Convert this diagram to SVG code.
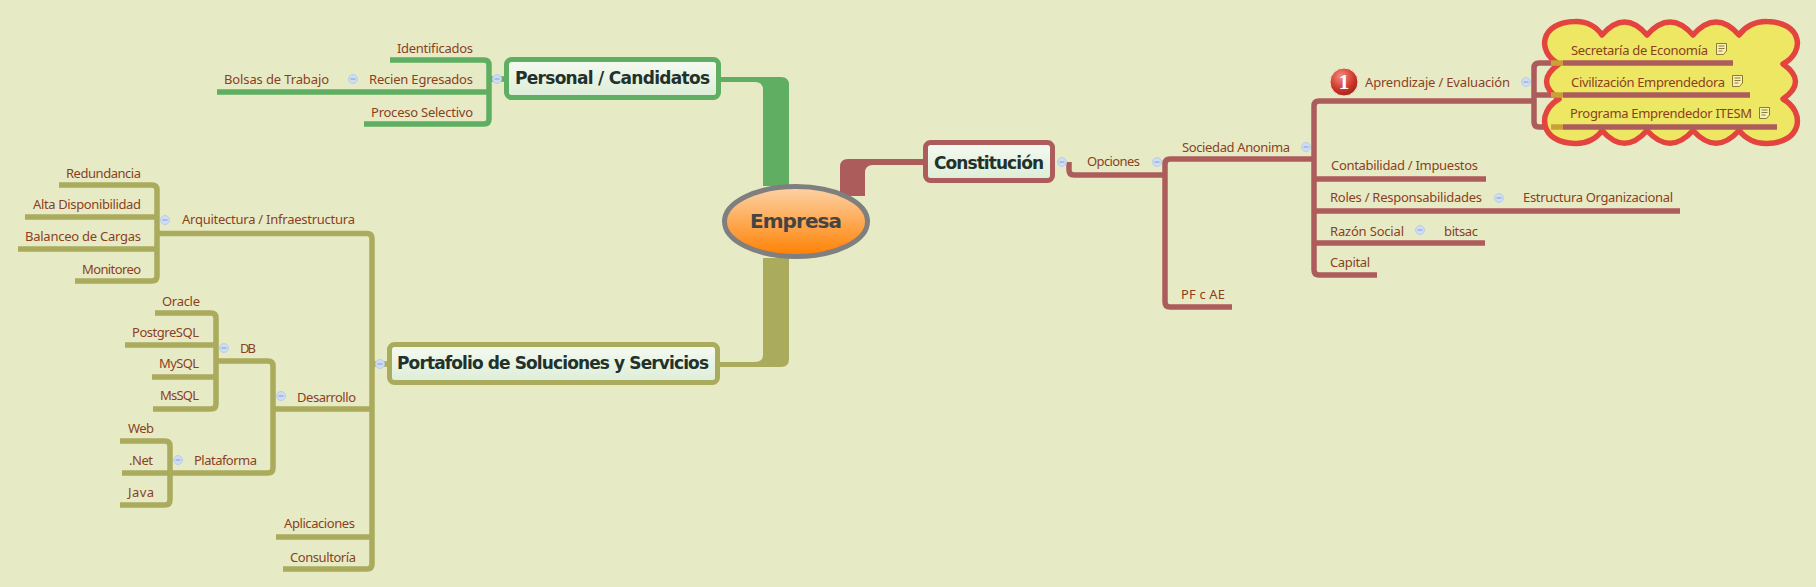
<svg xmlns="http://www.w3.org/2000/svg" width="1816" height="587" viewBox="0 0 1816 587">
<style>
.t{font-family:"Noto Sans","DejaVu Sans",sans-serif;font-size:13px;fill:#8b3f1f}
.h{font-family:"DejaVu Sans","Noto Sans",sans-serif;font-size:17px;font-weight:700;fill:#22322b}
.g,.o,.r{fill:none;stroke-width:5.500;stroke-linejoin:round}
.g{stroke:#5fae62}.o{stroke:#aaab5c}.r{stroke:#ad5c5c}
.box{stroke-width:5}
.c{fill:#cfdcf2;stroke:#b9cdec;stroke-width:1}
.m{stroke:#7f9fd8;stroke-width:1}
</style>
<defs>
<linearGradient id="nodeFill" x1="0" y1="0" x2="0" y2="1"><stop offset="0" stop-color="#f6faf2"/><stop offset="1" stop-color="#dcedd6"/></linearGradient>
<linearGradient id="coreFill" x1="0" y1="0" x2="0" y2="1"><stop offset="0" stop-color="#fdd3a8"/><stop offset="1" stop-color="#ff8000"/></linearGradient>
<radialGradient id="badge" cx="0.4" cy="0.3" r="0.8"><stop offset="0" stop-color="#f28d7d"/><stop offset="0.6" stop-color="#cc3527"/><stop offset="1" stop-color="#8f1f17"/></radialGradient>
<g id="ct"><circle class="c" r="4.5"/><path class="m" d="M-2.5 0H2.5"/></g>
<g id="note"><path d="M0.5 0.5H10.5V8L7.5 11.5H0.5Z" fill="#f6f2b0" stroke="#8d7a3a" stroke-width="1"/><path d="M2.5 3H8.5M2.5 5.5H8.5M2.5 8H6.5" stroke="#8d7a3a" stroke-width="1"/></g>
</defs>
<rect width="1816" height="587" fill="#e7ebc5"/>
<g id="connectors">
<path fill="#5fae62" d="M720 77H781Q789 77 789 85V186H763V90Q763 82 755 82H720Z"/>
<path fill="#aaab5c" d="M763 258V355Q763 362 755 362H720V367H781Q789 367 789 359V258Z"/>
<path fill="#ad5c5c" d="M840 205V167Q840 159 848 159H925V165H873Q865 165 865 173V196H840Z"/>
<path class="g" d="M390 60H484Q489 60 489 65V119Q489 124 484 124H364M217 92H489M489 79H506"/>
<path class="o" d="M388 364H372M59 185H152Q157 185 157 190V276Q157 281 152 281H75M25 217H157M18 249H157M159 233.500H367Q372 233.500 372 238.500V564Q372 569 367 569H283M276 537H372M273 409H372"/>
<path class="o" d="M155 313H211Q216 313 216 318V404Q216 409 211 409H153M125 345H216M152 377H216M217 361H268Q273 361 273 366V468Q273 473 268 473H122"/>
<path class="o" d="M120 441H165Q170 441 170 446V500Q170 505 165 505H120"/>
<path class="r" d="M1069 162V170Q1069 175 1074 175H1165M1232 307H1170Q1165 307 1165 302V164Q1165 159 1170 159H1314"/>
<path class="r" d="M1377 275H1319Q1314 275 1314 270V106Q1314 101 1319 101H1534M1314 179H1486M1314 211H1680M1314 243H1485"/>
<path class="r" d="M1560 63H1539Q1534 63 1534 68V122Q1534 127 1539 127H1560M1534 95H1560"/>
</g>
<g id="node-evaluacion-cloud">
<path fill="#ede763" stroke="#e3443f" stroke-width="5.500" stroke-linejoin="round" d="M1602 35Q1624.500 9 1647 35Q1670 9 1693 35Q1716 9 1739 35C1745 27 1755 21 1767 21.500C1802 22 1806 52 1783 64Q1808 81.500 1783 99C1806 112 1802 143 1767 143.500C1755 144 1745 138 1739 130.500Q1716 156 1693 130.500Q1670 156 1647 130.500Q1624.500 156 1602 130.500C1597 138 1587 144 1575 143.500C1540 143 1536 112 1559 99Q1534 81.500 1559 64C1536 52 1540 22 1575 21.500C1587 21 1597 27 1602 35Z"/>
</g>
<g id="connectors-in-cloud">
<path fill="none" stroke="#c9a13a" stroke-width="5.500" d="M1551 63H1563M1551 95H1563M1551 127H1563"/>
<path class="r" d="M1563 63H1733M1563 95H1750M1563 127H1777"/>
</g>
<g id="node-empresa"><ellipse cx="796" cy="221.500" rx="71.500" ry="35" fill="url(#coreFill)" stroke="#7f7f7f" stroke-width="5"/><text x="750" y="228" textLength="92" font-family="DejaVu Sans" font-size="20" font-weight="700" fill="#444">Empresa</text></g>
<g id="node-personal"><rect class="box" x="506.500" y="59.500" width="212" height="38" rx="5" fill="url(#nodeFill)" stroke="#5fae62"/><text class="h" x="515" y="84" textLength="195">Personal / Candidatos</text></g>
<g id="node-portafolio"><rect class="box" x="389.500" y="344.500" width="328" height="38" rx="5" fill="url(#nodeFill)" stroke="#aaab5c"/><text class="h" x="397" y="369" textLength="312">Portafolio de Soluciones y Servicios</text></g>
<g id="node-constitucion"><rect class="box" x="925.500" y="142.500" width="127" height="38" rx="5" fill="url(#nodeFill)" stroke="#ad5c5c"/><text class="h" x="934" y="169" textLength="110">Constitución</text></g>
<g id="node-identificados"><text class="t" x="397" y="53" textLength="76">Identificados</text></g>
<g id="node-recien"><text class="t" x="369" y="84" textLength="104">Recien Egresados</text></g>
<g id="node-bolsas"><text class="t" x="224" y="84" textLength="105">Bolsas de Trabajo</text></g>
<g id="node-proceso"><text class="t" x="371" y="117" textLength="102">Proceso Selectivo</text></g>
<g id="node-redundancia"><text class="t" x="66" y="178" textLength="75">Redundancia</text></g>
<g id="node-alta"><text class="t" x="33" y="209" textLength="108">Alta Disponibilidad</text></g>
<g id="node-balanceo"><text class="t" x="25" y="241" textLength="116">Balanceo de Cargas</text></g>
<g id="node-monitoreo"><text class="t" x="82" y="274" textLength="59">Monitoreo</text></g>
<g id="node-arquitectura"><text class="t" x="182" y="224" textLength="173">Arquitectura / Infraestructura</text></g>
<g id="node-oracle"><text class="t" x="162" y="306" textLength="38">Oracle</text></g>
<g id="node-postgresql"><text class="t" x="132" y="337" textLength="67">PostgreSQL</text></g>
<g id="node-db"><text class="t" x="240" y="353" textLength="16">DB</text></g>
<g id="node-mysql"><text class="t" x="159" y="368" textLength="40">MySQL</text></g>
<g id="node-mssql"><text class="t" x="160" y="400" textLength="39">MsSQL</text></g>
<g id="node-desarrollo"><text class="t" x="297" y="402" textLength="59">Desarrollo</text></g>
<g id="node-web"><text class="t" x="128" y="433" textLength="26">Web</text></g>
<g id="node-net"><text class="t" x="129" y="465" textLength="24">.Net</text></g>
<g id="node-plataforma"><text class="t" x="194" y="465" textLength="63">Plataforma</text></g>
<g id="node-java"><text class="t" x="128" y="497" textLength="26">Java</text></g>
<g id="node-aplicaciones"><text class="t" x="284" y="528" textLength="71">Aplicaciones</text></g>
<g id="node-consultoria"><text class="t" x="290" y="562" textLength="66">Consultoría</text></g>
<g id="node-opciones"><text class="t" x="1087" y="166" textLength="53">Opciones</text></g>
<g id="node-sociedad"><text class="t" x="1182" y="152" textLength="108">Sociedad Anonima</text></g>
<g id="node-pf"><text class="t" x="1181" y="299" textLength="44">PF c AE</text></g>
<g id="node-contabilidad"><text class="t" x="1331" y="170" textLength="147">Contabilidad / Impuestos</text></g>
<g id="node-roles"><text class="t" x="1330" y="202" textLength="152">Roles / Responsabilidades</text></g>
<g id="node-estructura"><text class="t" x="1523" y="202" textLength="150">Estructura Organizacional</text></g>
<g id="node-razon"><text class="t" x="1330" y="236" textLength="74">Razón Social</text></g>
<g id="node-bitsac"><text class="t" x="1444" y="236" textLength="34">bitsac</text></g>
<g id="node-capital"><text class="t" x="1330" y="267" textLength="40">Capital</text></g>
<g id="node-aprendizaje"><circle cx="1344" cy="82" r="14" fill="url(#badge)" stroke="#f3e7d2" stroke-width="1"/><text x="1344" y="89" text-anchor="middle" font-family="Liberation Serif" font-size="21" font-weight="700" fill="#fff">1</text><text class="t" x="1365" y="87" textLength="145">Aprendizaje / Evaluación</text></g>
<g id="node-secretaria"><text class="t" x="1571" y="55" textLength="137">Secretaría de Economía</text><use href="#note" x="1716" y="43"/></g>
<g id="node-civilizacion"><text class="t" x="1571" y="87" textLength="154">Civilización Emprendedora</text><use href="#note" x="1732" y="75"/></g>
<g id="node-programa"><text class="t" x="1570" y="118" textLength="182">Programa Emprendedor ITESM</text><use href="#note" x="1759" y="107"/></g>
<g id="collapse-toggles">
<use href="#ct" x="353" y="79"/><use href="#ct" x="497" y="79"/><use href="#ct" x="165" y="220"/><use href="#ct" x="224" y="348"/><use href="#ct" x="281" y="396"/><use href="#ct" x="178" y="460"/><use href="#ct" x="380" y="364"/><use href="#ct" x="1062" y="162"/><use href="#ct" x="1157" y="162"/><use href="#ct" x="1306" y="147"/><use href="#ct" x="1499" y="198"/><use href="#ct" x="1420" y="230"/><use href="#ct" x="1526" y="82"/>
</g>
</svg>
